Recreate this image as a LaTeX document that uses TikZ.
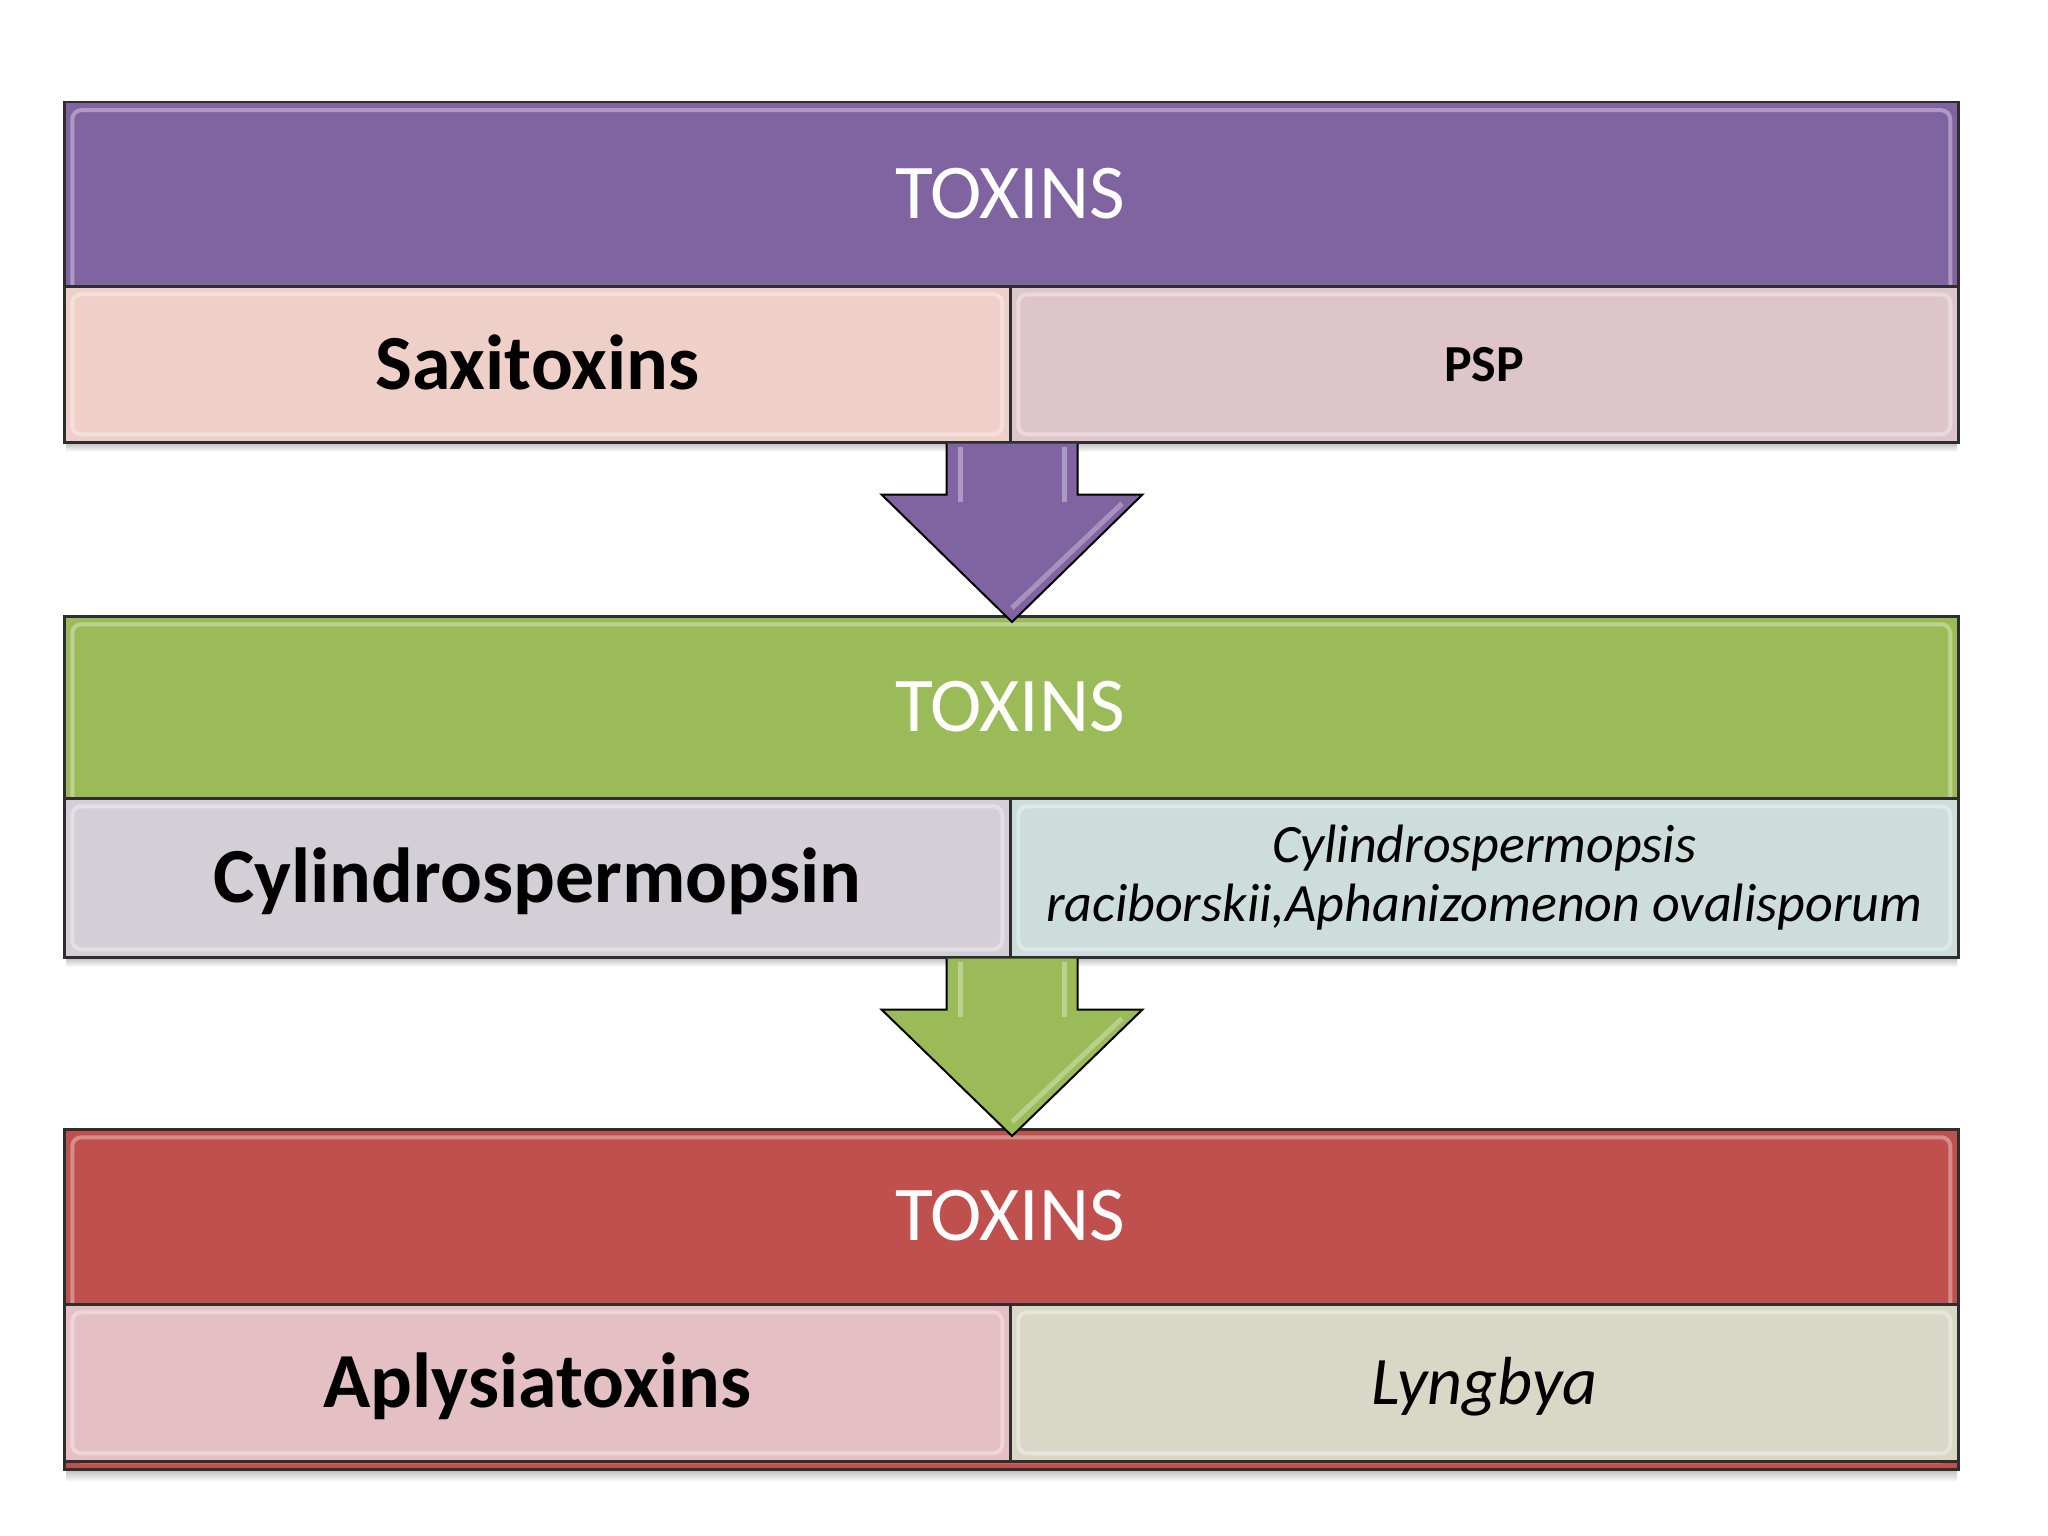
\documentclass[tikz,border=0pt]{standalone}
\usepackage{fontspec}
\setmainfont{Carlito}
\usetikzlibrary{calc}
\definecolor{hpurple}{HTML}{8064A2}
\definecolor{hgreen}{HTML}{9BBB59}
\definecolor{hred}{HTML}{C0504D}
\definecolor{cSaxi}{HTML}{EFD0C9}
\definecolor{cPSP}{HTML}{DEC5CB}
\definecolor{cCyl}{HTML}{D4CFD6}
\definecolor{cSpec}{HTML}{CCDDDC}
\definecolor{cAply}{HTML}{E4C0C5}
\definecolor{cLyng}{HTML}{D9D8C6}
\definecolor{edge}{HTML}{2E2E2E}
\begin{document}
\begin{tikzpicture}[x=1pt,y=-1pt,
  gloss/.style={path picture={\draw[white,opacity=.35,line width=4pt,rounded corners=9pt]
      ($(path picture bounding box.north west)+(8,8)$) rectangle ($(path picture bounding box.south east)+(-8,-8)$);}},
  box/.style={draw=edge, line width=2.5pt, inner sep=0pt, anchor=north west, gloss},
  headerbox/.style={box, minimum width=1894pt, minimum height=340pt},
  headtext/.style={text=white, inner sep=0pt, font=\fontsize{77.5}{80}\selectfont, text height=50pt, text depth=0pt},
  subbox/.style={box, text=black},
  boldtext/.style={font=\fontsize{78}{82}\selectfont\bfseries, text height=50.2pt, text depth=0pt},
  arrowbox/.style={draw=black, line width=2pt, line join=miter},
  shadowbar/.style={top color=black!25, bottom color=white, draw=none}
]
\useasboundingbox[fill=white] (0,0) rectangle (2048,1536);

% shadows
\shade[shadowbar] (66,443) rectangle (1957,452);
\shade[shadowbar] (66,958) rectangle (1957,967);
\shade[shadowbar] (66,1470) rectangle (1957,1482);

% ---- block 1
\node[headerbox, fill=hpurple] (h1) at (63,101) {};
\node[headtext] (t1) at (1010,193) {TOXINS};
\node[subbox, fill=cSaxi, minimum width=946pt, minimum height=156pt, boldtext] (s1l) at (63,285) {Saxitoxins};
\node[subbox, fill=cPSP, minimum width=948pt, minimum height=156pt,
      font=\fontsize{52}{56}\selectfont\bfseries, text height=33.5pt, text depth=0pt] (s1r) at (1009,285) {PSP};

% ---- block 2
\node[headerbox, fill=hgreen] (h2) at (63,615) {};
\node[headtext] (t2) at (1010,706) {TOXINS};
\node[subbox, fill=cCyl, minimum width=946pt, minimum height=159pt, boldtext] (s2l) at (63,797) {Cylindrospermopsin};
\node[subbox, fill=cSpec, minimum width=948pt, minimum height=159pt, align=center,
      font=\fontsize{54}{59}\selectfont\itshape] (s2r) at (1009,797)
      {Cylindrospermopsis\\raciborskii,Aphanizomenon ovalisporum};

% ---- block 3
\node[box, fill=hred, minimum width=1894pt, minimum height=340pt] (h3) at (63,1128) {};
\node[headtext] (t3) at (1010,1215) {TOXINS};
\node[subbox, fill=cAply, minimum width=946pt, minimum height=157pt, boldtext] (s3l) at (63,1303) {Aplysiatoxins};
\node[subbox, fill=cLyng, minimum width=948pt, minimum height=157pt,
      font=\fontsize{68}{72}\selectfont\itshape, text height=43.8pt, text depth=0pt] (s3r) at (1009,1303) {Lyngbya};

% ---- arrows
\coordinate (a1) at (s1l.south east -| 1012,0);
\coordinate (tip1) at (1012,622);
\filldraw[arrowbox, fill=hpurple]
  ($(a1)+(-65.5,0)$) -- ($(a1)+(-65.5,51)$) -- ($(a1)+(-130.5,51)$) -- (tip1)
  -- ($(a1)+(130.5,51)$) -- ($(a1)+(65.5,51)$) -- ($(a1)+(65.5,0)$);
\draw[white,opacity=.35,line width=5pt] ($(a1)+(-52,3)$) -- ($(a1)+(-52,58)$);
\draw[white,opacity=.35,line width=5pt] ($(a1)+(52,3)$) -- ($(a1)+(52,58)$);
\draw[white,opacity=.3,line width=5pt] ($(a1)+(110,60)$) -- ($(tip1)+(0,-14)$);

\coordinate (a2) at (s2l.south east -| 1012,0);
\coordinate (tip2) at (1012,1136);
\filldraw[arrowbox, fill=hgreen]
  ($(a2)+(-65.5,0)$) -- ($(a2)+(-65.5,51)$) -- ($(a2)+(-130.5,51)$) -- (tip2)
  -- ($(a2)+(130.5,51)$) -- ($(a2)+(65.5,51)$) -- ($(a2)+(65.5,0)$);
\draw[white,opacity=.35,line width=5pt] ($(a2)+(-52,3)$) -- ($(a2)+(-52,58)$);
\draw[white,opacity=.35,line width=5pt] ($(a2)+(52,3)$) -- ($(a2)+(52,58)$);
\draw[white,opacity=.3,line width=5pt] ($(a2)+(110,60)$) -- ($(tip2)+(0,-14)$);
\end{tikzpicture}
\end{document}
